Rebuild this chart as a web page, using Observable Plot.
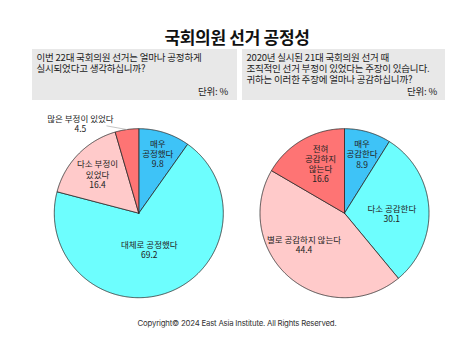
<!DOCTYPE html>
<html><head><meta charset="utf-8">
<script src="https://cdn.jsdelivr.net/npm/d3@7"></script>
<script src="https://cdn.jsdelivr.net/npm/@observablehq/plot@0.6"></script>
<style>
body{margin:0;background:#fff;font-family:"Noto Sans CJK KR","Noto Sans",sans-serif;}
#wrap{position:relative;width:474px;height:355px;overflow:hidden;background:#fff;}
.title{position:absolute;left:0;width:474px;top:27px;text-align:center;font-size:17px;font-weight:700;color:#111;line-height:20px;letter-spacing:-0.3px}
.box{position:absolute;top:49px;height:51px;background:#e8e8e8;font-size:9.5px;line-height:11px;color:#222;box-sizing:border-box;padding:3px 0 0 4.5px;letter-spacing:-0.2px}
.unit{position:absolute;right:9px;top:37px;}
.pie{position:absolute;top:105px;}
.copy{position:absolute;left:0;width:474px;top:318px;text-align:center;font-family:Inter,sans-serif;font-size:7.8px;color:#333;letter-spacing:-0.2px}
</style></head>
<body><div id="wrap">
<div class="title">국회의원 선거 공정성</div>
<div class="box" style="left:32px;width:205px">이번 22대 국회의원 선거는 얼마나 공정하게<br>실시되었다고 생각하십니까?<div class="unit">단위: %</div></div>
<div class="box" style="left:242px;width:203px">2020년 실시된 21대 국회의원 선거 때<br>조직적인 선거 부정이 있었다는 주장이 있습니다.<br>귀하는 이러한 주장에 얼마나 공감하십니까?<div class="unit" style="right:8px">단위: %</div></div>
<div id="p1" class="pie" style="left:0px"></div>
<div id="p2" class="pie" style="left:237px"></div>
<div class="copy">Copyright© 2024 East Asia Institute. All Rights Reserved.</div>
</div>
<script>
// Data
const pie1Categories = ["매우 공정했다", "대체로 공정했다", "다소 부정이 있었다", "많은 부정이 있었다"];
const pie1Labels = ["매우\n공정했다", "대체로 공정했다", "다소 부정이\n있었다", "많은 부정이 있었다"];
const pie1Values = [9.8, 69.2, 16.4, 4.5];

const pie2Categories = ["매우 공감한다", "다소 공감한다", "별로 공감하지 않는다", "전혀 공감하지 않는다"];
const pie2Labels = ["매우\n공감한다", "다소 공감한다", "별로 공감하지 않는다", "전혀\n공감하지\n않는다"];
const pie2Values = [8.9, 30.1, 44.4, 16.6];

const sliceColors = ["#3ec3f7", "#6dfefe", "#ffcaca", "#fe7474"];

// label placement (radius fraction, angle shift in degrees, outside flag)
const layout1 = [[0.74, 0, false], [0.45, 4, false], [0.67, -1, false], [1.265, -25, true]];
const layout2 = [[0.73, 0.5, false], [0.56, 4.5, false], [0.61, 11.5, false], [0.65, 4, false]];

function drawPie(el, cats, labels, values, layout, mLeft, mRight) {
  const arcs = d3.pie().sort(null).value(d => d)(values);
  const pts = [];
  arcs.forEach((a, i) => {
    const key = cats[i];
    pts.push({k: key, x: 0, y: 0});
    const n = Math.max(2, Math.ceil((a.endAngle - a.startAngle) / 0.01));
    for (let j = 0; j <= n; j++) {
      const t = a.startAngle + (a.endAngle - a.startAngle) * j / n;
      pts.push({k: key, x: Math.sin(t), y: Math.cos(t)});
    }
    pts.push({k: key, x: 0, y: 0});
  });
  const lbl = [], lead = [];
  arcs.forEach((a, i) => {
    const [r, shift, outside] = layout[i];
    const mid = (a.startAngle + a.endAngle) / 2;
    const t = mid + shift * Math.PI / 180;
    lbl.push({x: r * Math.sin(t), y: r * Math.cos(t), text: labels[i] + "\n" + values[i].toFixed(1)});
    if (outside) {
      const t2 = mid - 12 * Math.PI / 180;
      lead.push({x: Math.sin(mid), y: Math.cos(mid)});
      lead.push({x: 1.1 * Math.sin(t2), y: 1.1 * Math.cos(t2)});
    }
  });
  const chart = Plot.plot({
    width: 237, height: 200,
    marginLeft: mLeft, marginRight: mRight, marginTop: 23.2, marginBottom: 7.8,
    x: {domain: [-1, 1], axis: null},
    y: {domain: [-1, 1], axis: null},
    color: {domain: cats, range: sliceColors},
    style: {background: "transparent", overflow: "visible"},
    marks: [
      Plot.line(pts, {x: "x", y: "y", z: "k", fill: "k", stroke: "#2b2b2b", strokeWidth: 0.8, strokeLinejoin: "round"}),
      Plot.line(lead, {x: "x", y: "y", stroke: "#aaaaaa", strokeWidth: 0.7}),
      Plot.text(lbl, {x: "x", y: "y", text: "text", fontSize: 8.5, lineHeight: 1.2, fill: "#222",
        fontFamily: "'Noto Sans CJK KR', sans-serif"})
    ]
  });
  document.getElementById(el).appendChild(chart);
}
drawPie("p1", pie1Categories, pie1Labels, pie1Values, layout1, 53.8, 14.2);
drawPie("p2", pie2Categories, pie2Labels, pie2Values, layout2, 22.5, 45.5);
</script>
</body></html>
